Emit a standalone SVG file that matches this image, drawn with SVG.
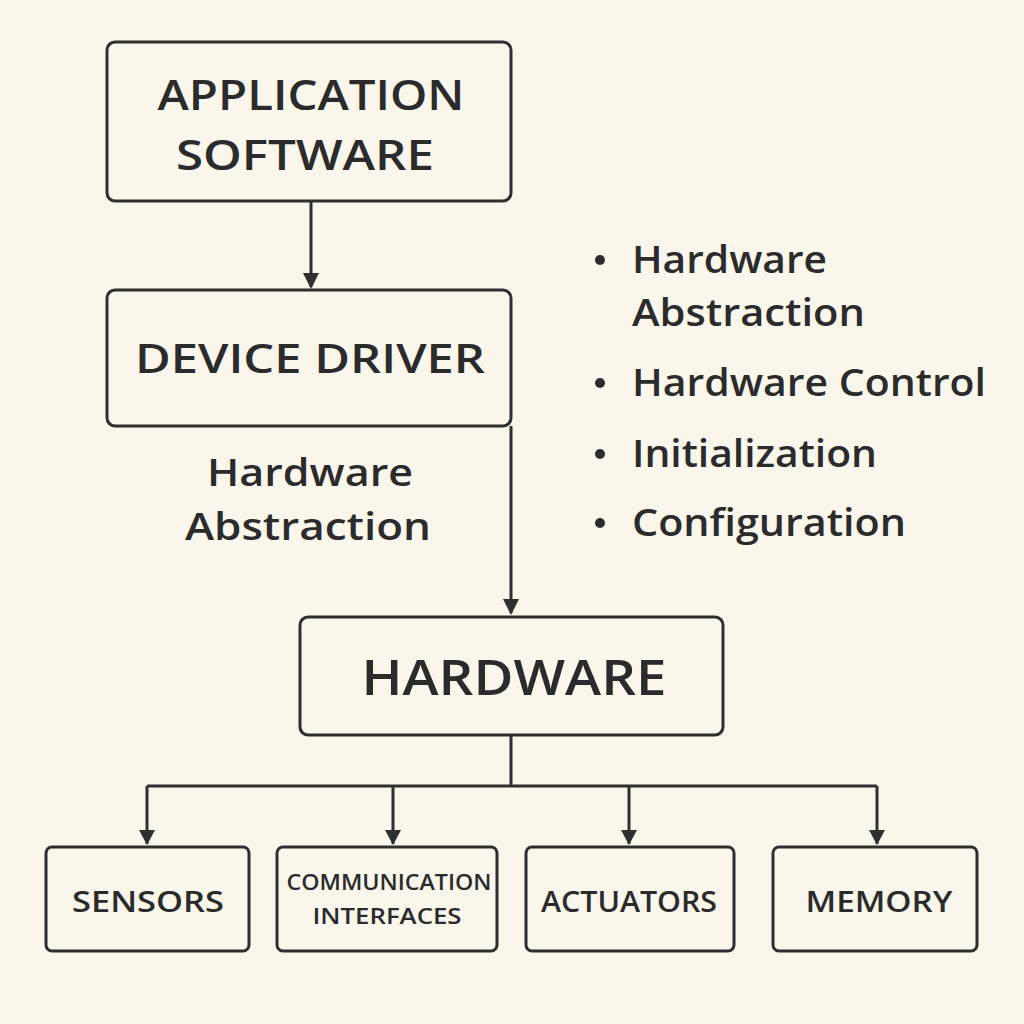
<svg xmlns="http://www.w3.org/2000/svg" width="1024" height="1024" viewBox="0 0 1024 1024">
<style>
.box{fill:#faf6ec;stroke:#2f2f2f;stroke-width:3}
.t{font-family:"Open Sans","Liberation Sans",Arial,sans-serif;font-weight:600;fill:#2b2b2b;text-anchor:middle}
.l{font-family:"Open Sans","Liberation Sans",Arial,sans-serif;font-weight:600;fill:#2b2b2b;font-size:38px}
.c{fill:none;stroke:#2f2f2f;stroke-width:3}
</style>
<defs><marker id="b" markerWidth="16" markerHeight="16" refX="14" refY="8" orient="auto" markerUnits="userSpaceOnUse" viewBox="0 0 16 16"><path d="M0,0L16,8L0,16z" fill="#2f2f2f"/></marker></defs>
<rect width="1024" height="1024" fill="#faf6ec"/>
<g id="connectors">
<path class="c" d="M311,201V287" marker-end="url(#b)"/>
<path class="c" d="M511,426V613" marker-end="url(#b)"/>
<path class="c" d="M511,735V786M147,786H877M147,786V844M393,786V844M629,786V844M877,786V844"/>
<path d="M139,830L147,845L155,830z M385,830L393,845L401,830z M621,830L629,845L637,830z M869,830L877,845L885,830z" fill="#2f2f2f"/>
</g>
<g id="app"><rect class="box" x="107" y="42" width="404" height="159" rx="8"/>
<text class="t" x="311" y="110" font-size="42" textLength="307" lengthAdjust="spacingAndGlyphs">APPLICATION</text><text class="t" x="305" y="170" font-size="42" textLength="258" lengthAdjust="spacingAndGlyphs">SOFTWARE</text></g>
<g id="driver"><rect class="box" x="107" y="290" width="404" height="136" rx="8"/>
<text class="t" x="310" y="373" font-size="40" textLength="350" lengthAdjust="spacingAndGlyphs">DEVICE DRIVER</text></g>
<g id="label"><text class="t" x="310" y="486" font-size="38" textLength="206" lengthAdjust="spacingAndGlyphs">Hardware</text><text class="t" x="308" y="540" font-size="38" textLength="246" lengthAdjust="spacingAndGlyphs">Abstraction</text></g>
<g id="hardware"><rect class="box" x="300" y="617" width="423" height="118" rx="8"/>
<text class="t" x="514" y="695" font-size="48" textLength="305" lengthAdjust="spacingAndGlyphs">HARDWARE</text></g>
<g id="sensors"><rect class="box" x="46" y="847" width="203" height="104" rx="6"/><text class="t" x="148" y="912" font-size="29" textLength="152" lengthAdjust="spacingAndGlyphs">SENSORS</text></g>
<g id="comm"><rect class="box" x="277" y="847" width="220" height="104" rx="6"/><text class="t" x="389" y="890" font-size="22" textLength="205" lengthAdjust="spacingAndGlyphs">COMMUNICATION</text><text class="t" x="387" y="924" font-size="22" textLength="149" lengthAdjust="spacingAndGlyphs">INTERFACES</text></g>
<g id="actuators"><rect class="box" x="526" y="847" width="208" height="104" rx="6"/><text class="t" x="629" y="912" font-size="29" textLength="176" lengthAdjust="spacingAndGlyphs">ACTUATORS</text></g>
<g id="memory"><rect class="box" x="773" y="847" width="204" height="104" rx="6"/><text class="t" x="879" y="912" font-size="29" textLength="147" lengthAdjust="spacingAndGlyphs">MEMORY</text></g>
<g id="list">
<circle cx="600" cy="260" r="5" fill="#2b2b2b"/><text class="l" x="632" y="273" textLength="195" lengthAdjust="spacingAndGlyphs">Hardware</text><text class="l" x="632" y="326" textLength="233" lengthAdjust="spacingAndGlyphs">Abstraction</text>
<circle cx="600" cy="383" r="5" fill="#2b2b2b"/><text class="l" x="632" y="396" textLength="354" lengthAdjust="spacingAndGlyphs">Hardware Control</text>
<circle cx="600" cy="454" r="5" fill="#2b2b2b"/><text class="l" x="632" y="467" textLength="245" lengthAdjust="spacingAndGlyphs">Initialization</text>
<circle cx="600" cy="523" r="5" fill="#2b2b2b"/><text class="l" x="632" y="536" textLength="274" lengthAdjust="spacingAndGlyphs">Configuration</text>
</g>
</svg>
